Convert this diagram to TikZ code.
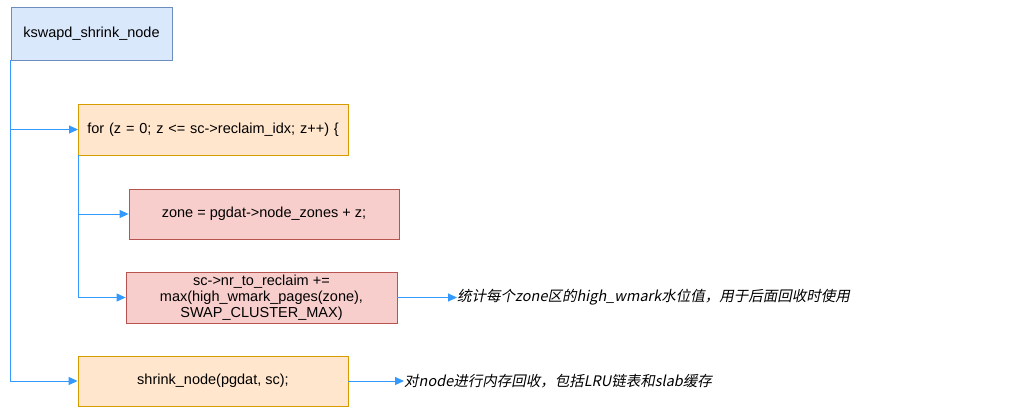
\documentclass[tikz,border=0pt]{standalone}
\usepackage{fontspec}
\setmainfont{Liberation Sans}
\newfontfamily\cjk{Noto Sans CJK SC}[FakeSlant=0.2]
\usetikzlibrary{arrows.meta}
\definecolor{bfill}{HTML}{DAE8FC}\definecolor{bline}{HTML}{6C8EBF}
\definecolor{ofill}{HTML}{FFE6CC}\definecolor{oline}{HTML}{D79B00}
\definecolor{rfill}{HTML}{F8CECC}\definecolor{rline}{HTML}{B85450}
\definecolor{arr}{HTML}{3399FF}
\begin{document}
\begin{tikzpicture}[x=1pt,y=-1pt,
 box/.style={draw,line width=0.8pt,inner sep=0pt,font=\fontsize{14.5}{16}\selectfont,align=center},
 blue/.style={box,fill=bfill,draw=bline},
 orange/.style={box,fill=ofill,draw=oline},
 red/.style={box,fill=rfill,draw=rline},
 con/.style={draw=arr,line width=1pt,-{Triangle[length=9pt,width=8pt]}},
 note/.style={anchor=west,inner sep=0pt,font=\cjk\fontsize{14.5}{16}\selectfont}]
\useasboundingbox (0,0) rectangle (1023,418);
\node[blue,minimum width=161pt,minimum height=53pt] (k) at (91.5,33.5) {kswapd\_shrink\_node};
\node[orange,minimum width=270pt,minimum height=51pt,anchor=west,text width=262pt,align=left,inner xsep=4pt] (f) at (78,129.5) {\hspace*{5pt}for (z = 0; z <= sc->reclaim\_idx; z++) \{};
\node[red,minimum width=270pt,minimum height=50pt] (z) at (264,214) {zone = pgdat->node\_zones + z;};
\node[red,minimum width=271pt,minimum height=51pt] (s) at (261.5,297.5) {sc->nr\_to\_reclaim +=\\max(high\_wmark\_pages(zone),\\SWAP\_CLUSTER\_MAX)};
\node[orange,minimum width=270pt,minimum height=50pt] (n) at (213,381) {shrink\_node(pgdat, sc);};
\node[note] (t1) at (457,297) {统计每个zone区的high\_wmark水位值，用于后面回收时使用};
\node[note] (t2) at (404,381) {对node进行内存回收，包括LRU链表和slab缓存};
\draw[con] (k.south west) |- (f.west);
\draw[con] (k.south west) |- (n.west);
\draw[con] (f.south west) |- (z.west);
\draw[con] (f.south west) |- (s.west);
\draw[con] (s.east) -- (s.east -| t1.west);
\draw[con] (n.east) -- (n.east -| t2.west);
\end{tikzpicture}
\end{document}
